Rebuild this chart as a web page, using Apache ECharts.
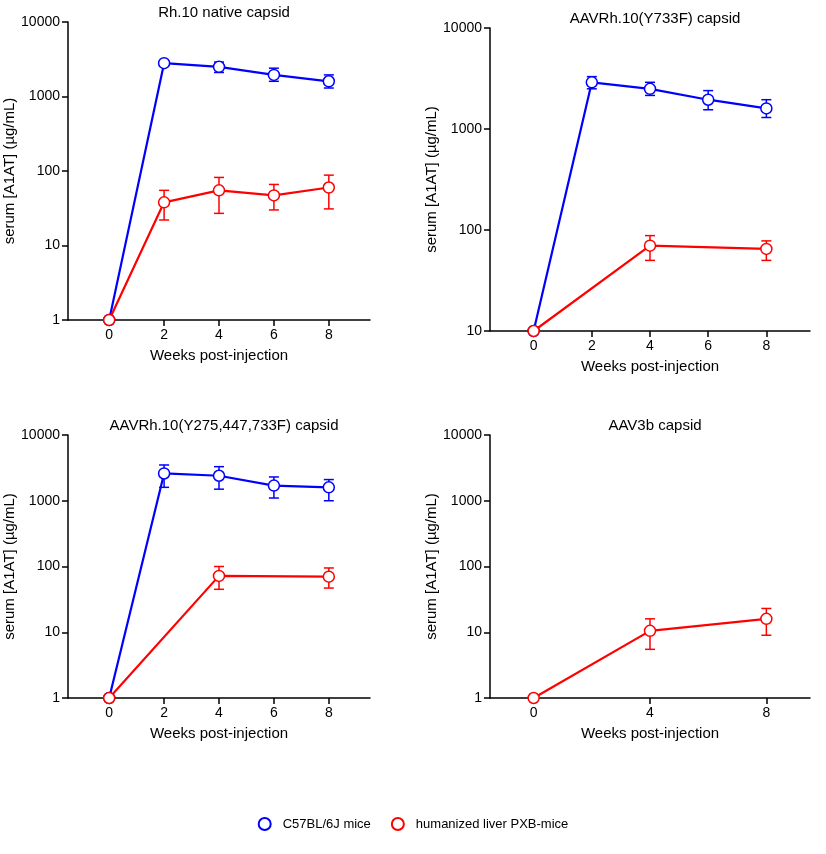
<!DOCTYPE html>
<html><head><meta charset="utf-8">
<script src="https://cdn.jsdelivr.net/npm/echarts@6/dist/echarts.min.js"></script>
<style>body{margin:0;background:#fff}#c{width:826px;height:854px}</style>
</head><body><div id="c"></div>
<script>
// 数据：每个面板的均值和误差范围 [x, mean, low, high]
var titles = ['Rh.10 native capsid', 'AAVRh.10(Y733F) capsid', 'AAVRh.10(Y275,447,733F) capsid', 'AAV3b capsid'];
var yMins = [1, 10, 1, 1];
var blue1 = [[0,1,1,1],[2,2800,2600,3000],[4,2500,2100,2900],[6,1950,1600,2400],[8,1600,1300,1950]];
var red1  = [[0,1,1,1],[2,38,22,55],[4,55,27,82],[6,47,30,66],[8,60,31,88]];
var blue2 = [[0,10,10,10],[2,2900,2500,3300],[4,2500,2150,2900],[6,1950,1550,2400],[8,1600,1300,1950]];
var red2  = [[0,10,10,10],[4,70,50,88],[8,65,50,78]];
var blue3 = [[0,1,1,1],[2,2600,1600,3500],[4,2400,1500,3300],[6,1700,1100,2300],[8,1600,1000,2100]];
var red3  = [[0,1,1,1],[4,72,45,100],[8,70,47,95]];
var red4  = [[0,1,1,1],[4,10.5,5.5,16],[8,16,9,23]];
var panels = [[blue1, red1], [blue2, red2], [blue3, red3], [null, red4]];
var xTicks = [[0, 2, 4, 6, 8], [0, 2, 4, 6, 8], [0, 2, 4, 6, 8], [0, 4, 8]];

var grids = [
  {left: 68, top: 22, width: 302, height: 298},
  {left: 490, top: 28, width: 320, height: 303},
  {left: 68, top: 435, width: 302, height: 263},
  {left: 490, top: 435, width: 320, height: 263}
];

var myChart = echarts.init(document.getElementById('c'));
var font = 'Liberation Sans';
var option = {
  backgroundColor: '#fff',
  textStyle: {fontFamily: font},
  animation: false,
  title: [], grid: [], xAxis: [], yAxis: [], series: [],
  legend: {
    bottom: 18, left: 'center', itemGap: 20,
    textStyle: {fontFamily: font, fontSize: 13, color: '#000'},
    data: [
      {name: 'C57BL/6J mice', icon: 'circle', itemStyle: {color: '#fff', borderColor: '#0000ff', borderWidth: 2}},
      {name: 'humanized liver PXB-mice', icon: 'circle', itemStyle: {color: '#fff', borderColor: '#ff0000', borderWidth: 2}}
    ],
    itemWidth: 26, itemHeight: 12
  }
};

function errSeries(data, color, i, name) {
  return {
    type: 'custom', name: name, xAxisIndex: i, yAxisIndex: i, z: 1,
    data: data.map(function (d) { return [d[0], d[2], d[3]]; }),
    renderItem: function (params, api) {
      var lo = api.coord([api.value(0), api.value(1)]);
      var hi = api.coord([api.value(0), api.value(2)]);
      var w = 5;
      var st = {stroke: color, lineWidth: 1.5};
      return {type: 'group', children: [
        {type: 'line', shape: {x1: lo[0], y1: lo[1], x2: hi[0], y2: hi[1]}, style: st},
        {type: 'line', shape: {x1: lo[0]-w, y1: lo[1], x2: lo[0]+w, y2: lo[1]}, style: st},
        {type: 'line', shape: {x1: hi[0]-w, y1: hi[1], x2: hi[0]+w, y2: hi[1]}, style: st}
      ]};
    }
  };
}
function lineSeries(data, color, i, name) {
  return {
    type: 'line', name: name, xAxisIndex: i, yAxisIndex: i, z: 3,
    data: data.map(function (d) { return [d[0], d[1]]; }),
    symbol: 'circle', symbolSize: 11,
    itemStyle: {color: '#fff', borderColor: color, borderWidth: 1.5},
    lineStyle: {color: color, width: 2.2}
  };
}

grids.forEach(function (g, i) {
  option.grid.push(g);
  option.title.push({
    text: titles[i], left: g.left + g.width / 2, top: g.top - 22, textAlign: 'center',
    textStyle: {fontFamily: font, fontSize: 15, fontWeight: 'normal', color: '#000'}
  });
  option.xAxis.push({
    type: 'value', gridIndex: i, min: -1.5, max: 9.5, interval: 2,
    name: 'Weeks post-injection', nameLocation: 'middle', nameGap: 28,
    nameTextStyle: {fontSize: 15, color: '#000'},
    axisLine: {onZero: false, lineStyle: {color: '#000', width: 1.5}},
    axisTick: {length: 6, lineStyle: {color: '#000', width: 1.5}, customValues: xTicks[i]},
    axisLabel: {color: '#000', fontSize: 14, customValues: xTicks[i]},
    splitLine: {show: false}
  });
  option.yAxis.push({
    type: 'log', gridIndex: i, min: yMins[i], max: 10000, logBase: 10,
    name: 'serum [A1AT] (µg/mL)', nameLocation: 'middle', nameGap: 50,
    nameTextStyle: {fontSize: 15, color: '#000'},
    axisLine: {show: true, onZero: false, lineStyle: {color: '#000', width: 1.5}},
    axisTick: {show: true, length: 6, lineStyle: {color: '#000', width: 1.5}},
    axisLabel: {color: '#000', fontSize: 14, formatter: function (v) { return String(Math.round(v)); }},
    splitLine: {show: false}
  });
  var p = panels[i];
  if (p[0]) {
    option.series.push(errSeries(p[0], '#0000ff', i, 'C57BL/6J mice'));
    option.series.push(lineSeries(p[0], '#0000ff', i, 'C57BL/6J mice'));
  }
  option.series.push(errSeries(p[1], '#ff0000', i, 'humanized liver PXB-mice'));
  option.series.push(lineSeries(p[1], '#ff0000', i, 'humanized liver PXB-mice'));
});

myChart.setOption(option);
</script>
</body></html>
